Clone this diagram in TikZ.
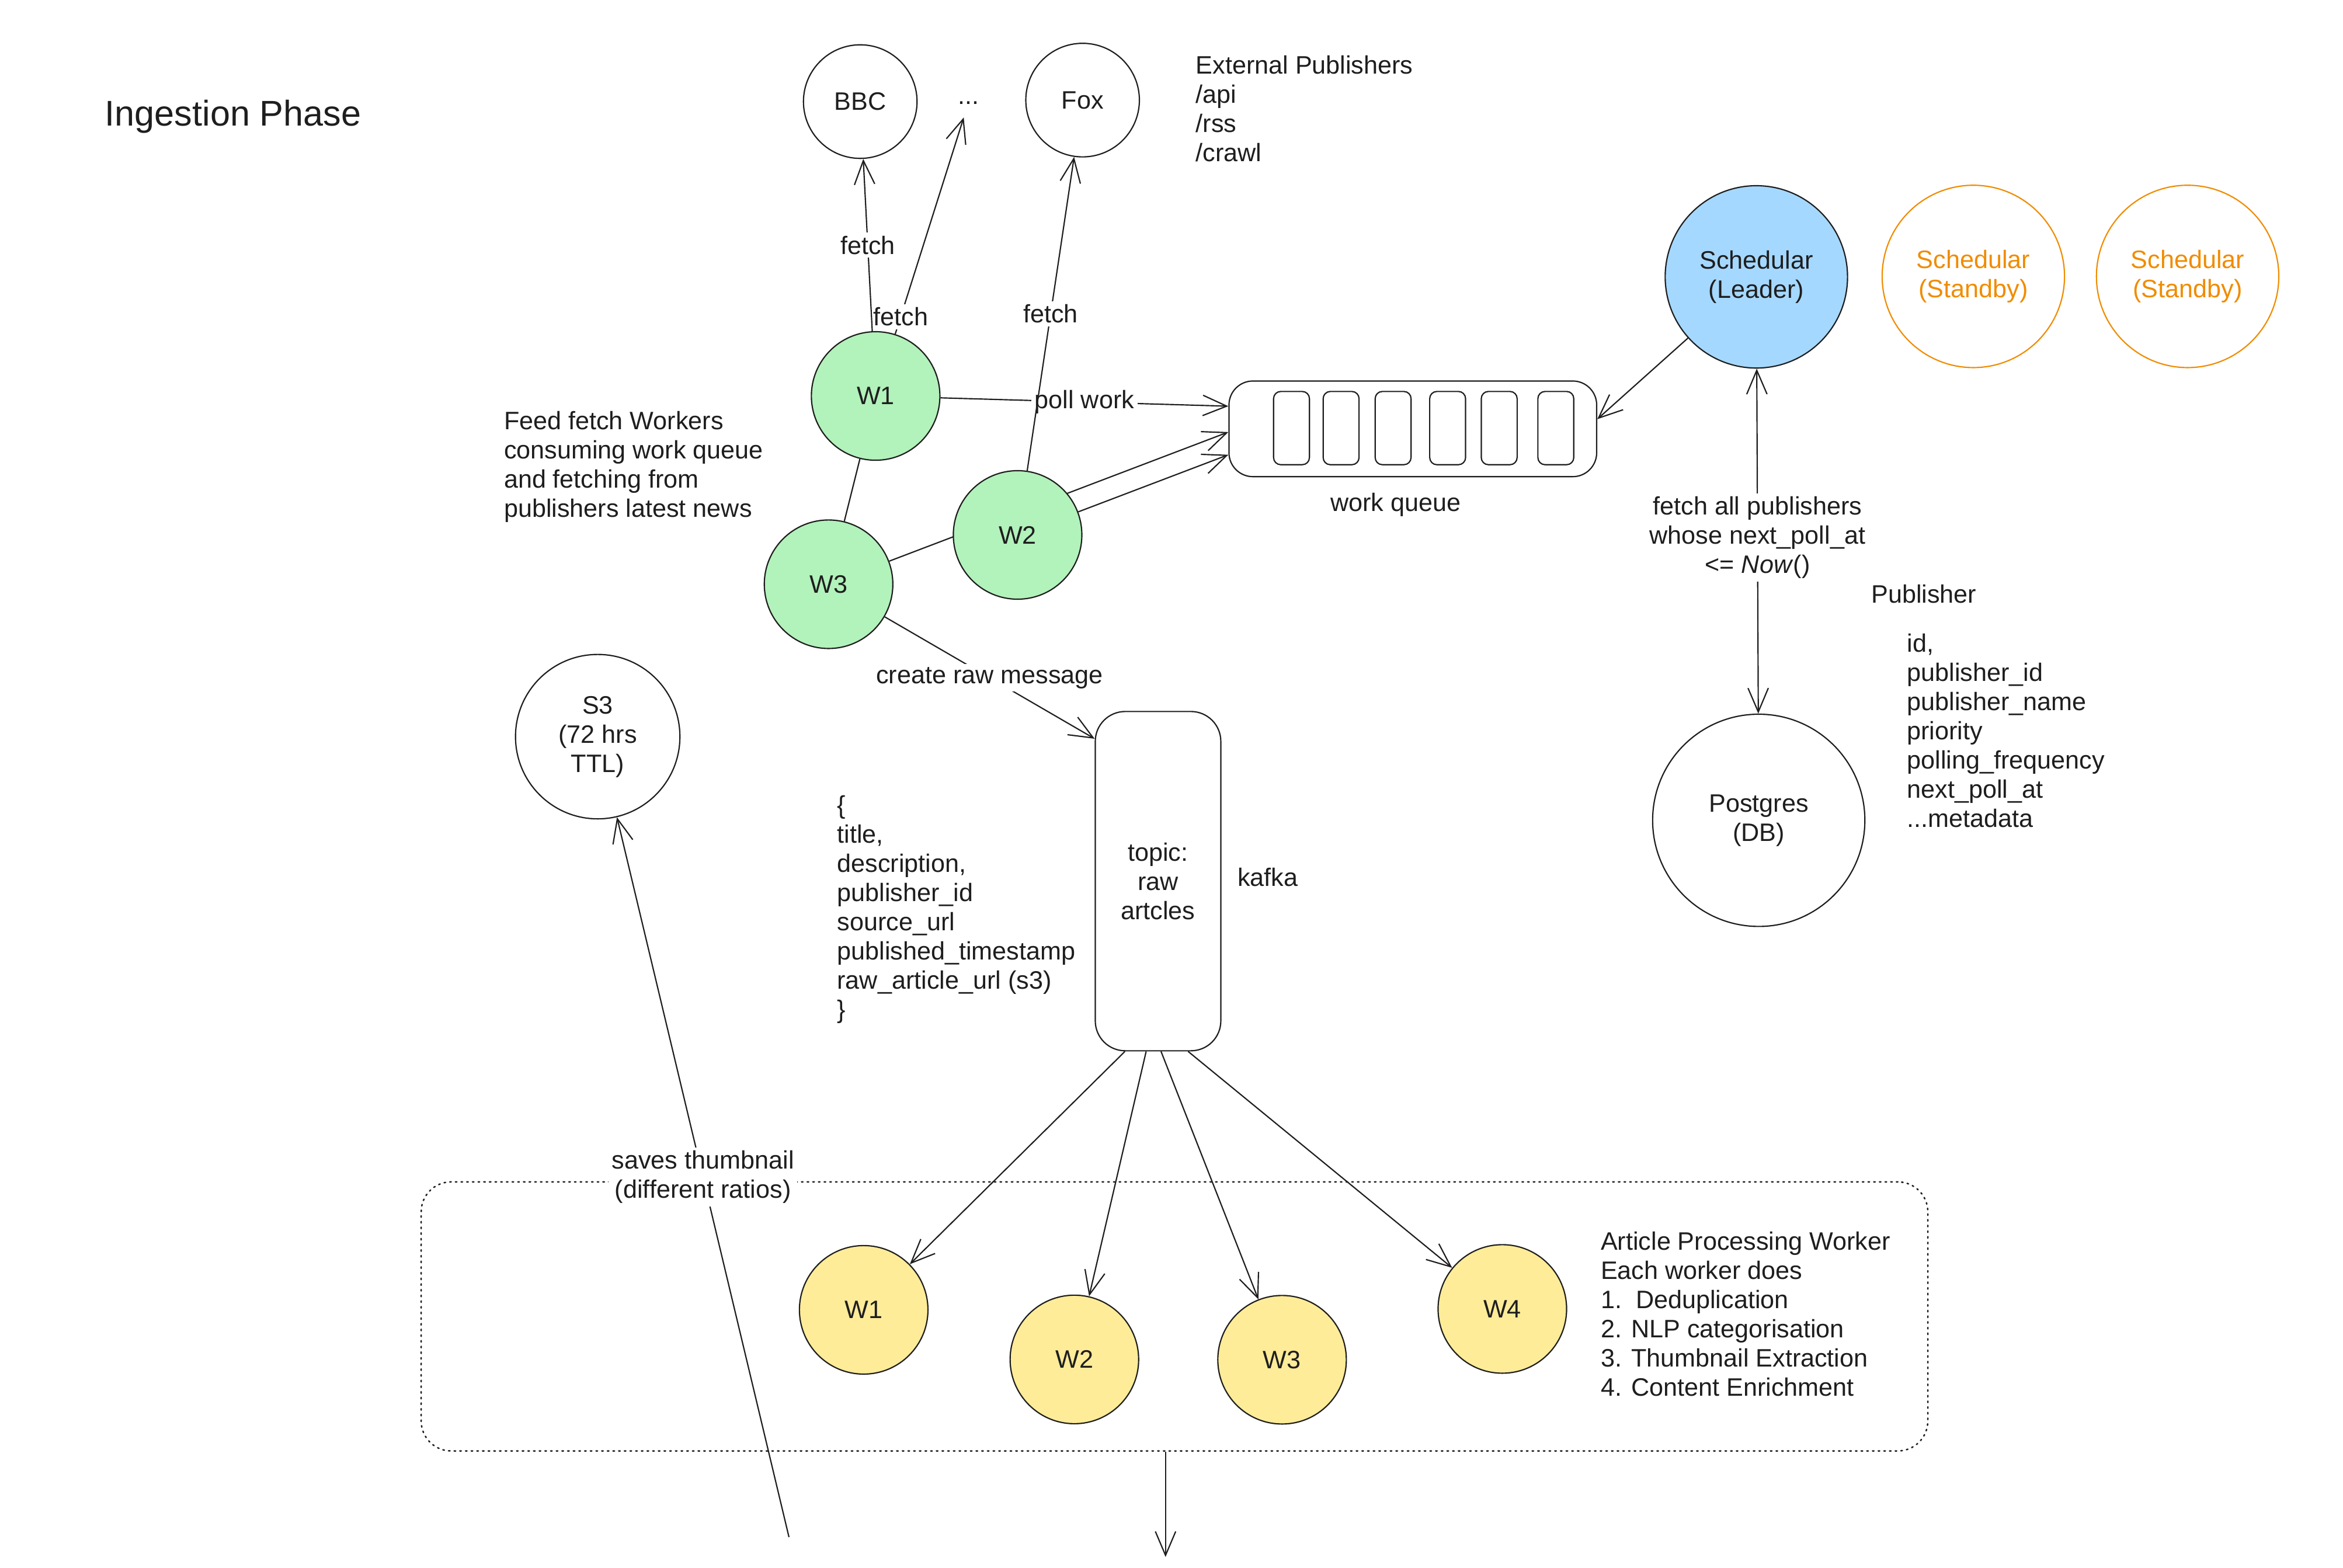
\documentclass[tikz,border=0pt]{standalone}
\usepackage{fontspec}
\setmainfont{Liberation Sans}
\usepackage{tikz}
\usetikzlibrary{arrows.meta}

\definecolor{ink}{HTML}{1E1E1E}
\definecolor{wgreen}{HTML}{B2F2BB}
\definecolor{wblue}{HTML}{A5D8FF}
\definecolor{wyellow}{HTML}{FFEC99}
\definecolor{worange}{HTML}{F08C00}

\tikzset{
  txt/.style={font={\fontsize{12}{13.9}\selectfont}, text=ink, inner sep=0pt},
  ball/.style={txt, circle, draw=ink, line width=0.6pt, align=center},
  fetchw/.style={ball, fill=wgreen, minimum size=2.15cm},
  procw/.style={ball, fill=wyellow, minimum size=2.15cm},
  sched/.style={ball, minimum size=3.05cm},
  slot/.style={draw=ink, line width=0.6pt, rounded corners=0.12cm, minimum width=0.6cm, minimum height=1.225cm, inner sep=0pt},
  lbl/.style={txt, fill=white, inner sep=1.5pt, align=center},
  arr/.style={draw=ink, line width=0.6pt, -{Straight Barb[length=4mm,width=3.4mm]}},
  arrboth/.style={draw=ink, line width=0.6pt, {Straight Barb[length=4mm,width=3.4mm]}-{Straight Barb[length=4mm,width=3.4mm]}}
}

\begin{document}
\begin{tikzpicture}[x=0.025cm, y=-0.025cm]
    \fill[white] (0,0) rectangle (1568,1049);
    \useasboundingbox (0,0) rectangle (1568,1049);

    \node[txt, anchor=west, font={\fontsize{17}{20}\selectfont}] (title) at (70,78) {Ingestion Phase};

    % publishers
    \node[ball, minimum size=1.9cm] (bbc) at (575.7,68) {BBC};
    \node[txt, inner sep=6pt] (dots) at (648,69) {...};
    \node[ball, minimum size=1.9cm] (fox) at (724.5,67) {Fox};
    \node[txt, anchor=north west, align=left] (extpub) at (800,37) {External Publishers\\/api\\/rss\\/crawl};

    % fetch workers
    \node[fetchw] (w1) at (586,265) {W1};
    \node[fetchw] (w3) at (554.5,391) {W3};
    \node[txt, anchor=north west, align=left] (feednote) at (337,275) {Feed fetch Workers\\consuming work queue\\and fetching from\\publishers latest news};

    % work queue
    \node[draw=ink, line width=0.6pt, rounded corners=0.4cm, minimum width=6.15cm, minimum height=1.6cm] (queue) at (945.5,287) {};
    \node[slot] (q1) at (864.3,286.5) {};
    \node[slot] (q2) at (897.5,286.5) {};
    \node[slot] (q3) at (932.3,286.5) {};
    \node[slot] (q4) at (968.8,286.5) {};
    \node[slot] (q5) at (1003.3,286.5) {};
    \node[slot] (q6) at (1041.2,286.5) {};
    \node[txt] (wqlabel) at (934,338) {work queue};

    % goes behind W2
    \draw[arr] (w3) -- (queue.181.5);
    \node[fetchw] (w2) at (681,358) {W2};

    % schedulers
    \node[sched, fill=wblue] (leader) at (1175.4,185.3) {Schedular\\(Leader)};
    \node[sched, draw=worange, text=worange] (standby1) at (1320.6,185) {Schedular\\(Standby)};
    \node[sched, draw=worange, text=worange] (standby2) at (1464,185) {Schedular\\(Standby)};

    \node[ball, minimum size=3.55cm] (pg) at (1177,549) {Postgres\\(DB)};
    \node[txt, anchor=west] (pubhead) at (1252,397.5) {Publisher};
    \node[txt, anchor=north west, align=left] (pubcols) at (1276,424) {id,\\publisher\_id\\publisher\_name\\priority\\polling\_frequency\\next\_poll\_at\\...metadata};

    % kafka
    \node[ball, minimum size=2.75cm] (s3) at (400,493) {S3\\(72 hrs\\TTL)};
    \node[txt, draw=ink, line width=0.6pt, rounded corners=0.5cm, minimum width=2.1cm, minimum height=5.675cm, align=center] (topic) at (775,589.7) {topic:\\raw\\artcles};
    \node[txt, anchor=west] (kafka) at (828,587) {kafka};
    \node[txt, anchor=north west, align=left] (msg) at (560,532) {\{\\title,\\description,\\publisher\_id\\source\_url\\published\_timestamp\\raw\_article\_url (s3)\\\}};

    % processing workers
    \node[draw=ink, line width=0.7pt, dotted, line cap=round, rounded corners=0.5cm, minimum width=25.2cm, minimum height=4.5cm] (proc) at (786,881) {};
    \node[procw] (y1) at (578,876.6) {W1};
    \node[procw] (y2) at (719,909.8) {W2};
    \node[procw] (y3) at (858,910) {W3};
    \node[procw] (y4) at (1005.4,876) {W4};
    \node[txt, anchor=north west, align=left] (apw) at (1071,824) {Article Processing Worker\\Each worker does\\1.\ \ Deduplication\\2. NLP categorisation\\3. Thumbnail Extraction\\4. Content Enrichment};

    \draw[arr] (w1) -- node[lbl, pos=0.08] {fetch} (dots);
    \draw[arr] (w1) -- node[lbl] {fetch} (bbc);
    \draw[arr] (w1) -- node[lbl] {poll work} (queue.173);
    \draw[arr] (w2) -- node[lbl] {fetch} (fox);
    \draw[arr] (w2) -- (queue.188);
    \draw[draw=ink, line width=0.6pt] (w1) -- (w3);
    \draw[arr] (w3) -- node[lbl] {create raw message} (topic.114);
    \draw[arr] (leader) -- (queue.3);
    \draw[arrboth] (leader) -- node[lbl, pos=0.49] {fetch all publishers\\whose next\_poll\_at\\<= \textit{Now}()} (pg);

    \draw[arr] (topic.259) -- (y1);
    \draw[arr] (topic.266) -- (y2);
    \draw[arr] (topic.271) -- (y3);
    \draw[arr] (topic.280) -- (y4);

    \coordinate (down) at (780,1042);
    \draw[arr] (proc.south -| down) -- (down);
    \coordinate (thumb) at (528,1028.7);
    \draw[arr] (thumb) -- node[lbl] {saves thumbnail\\(different ratios)} (s3);
\end{tikzpicture}
\end{document}
